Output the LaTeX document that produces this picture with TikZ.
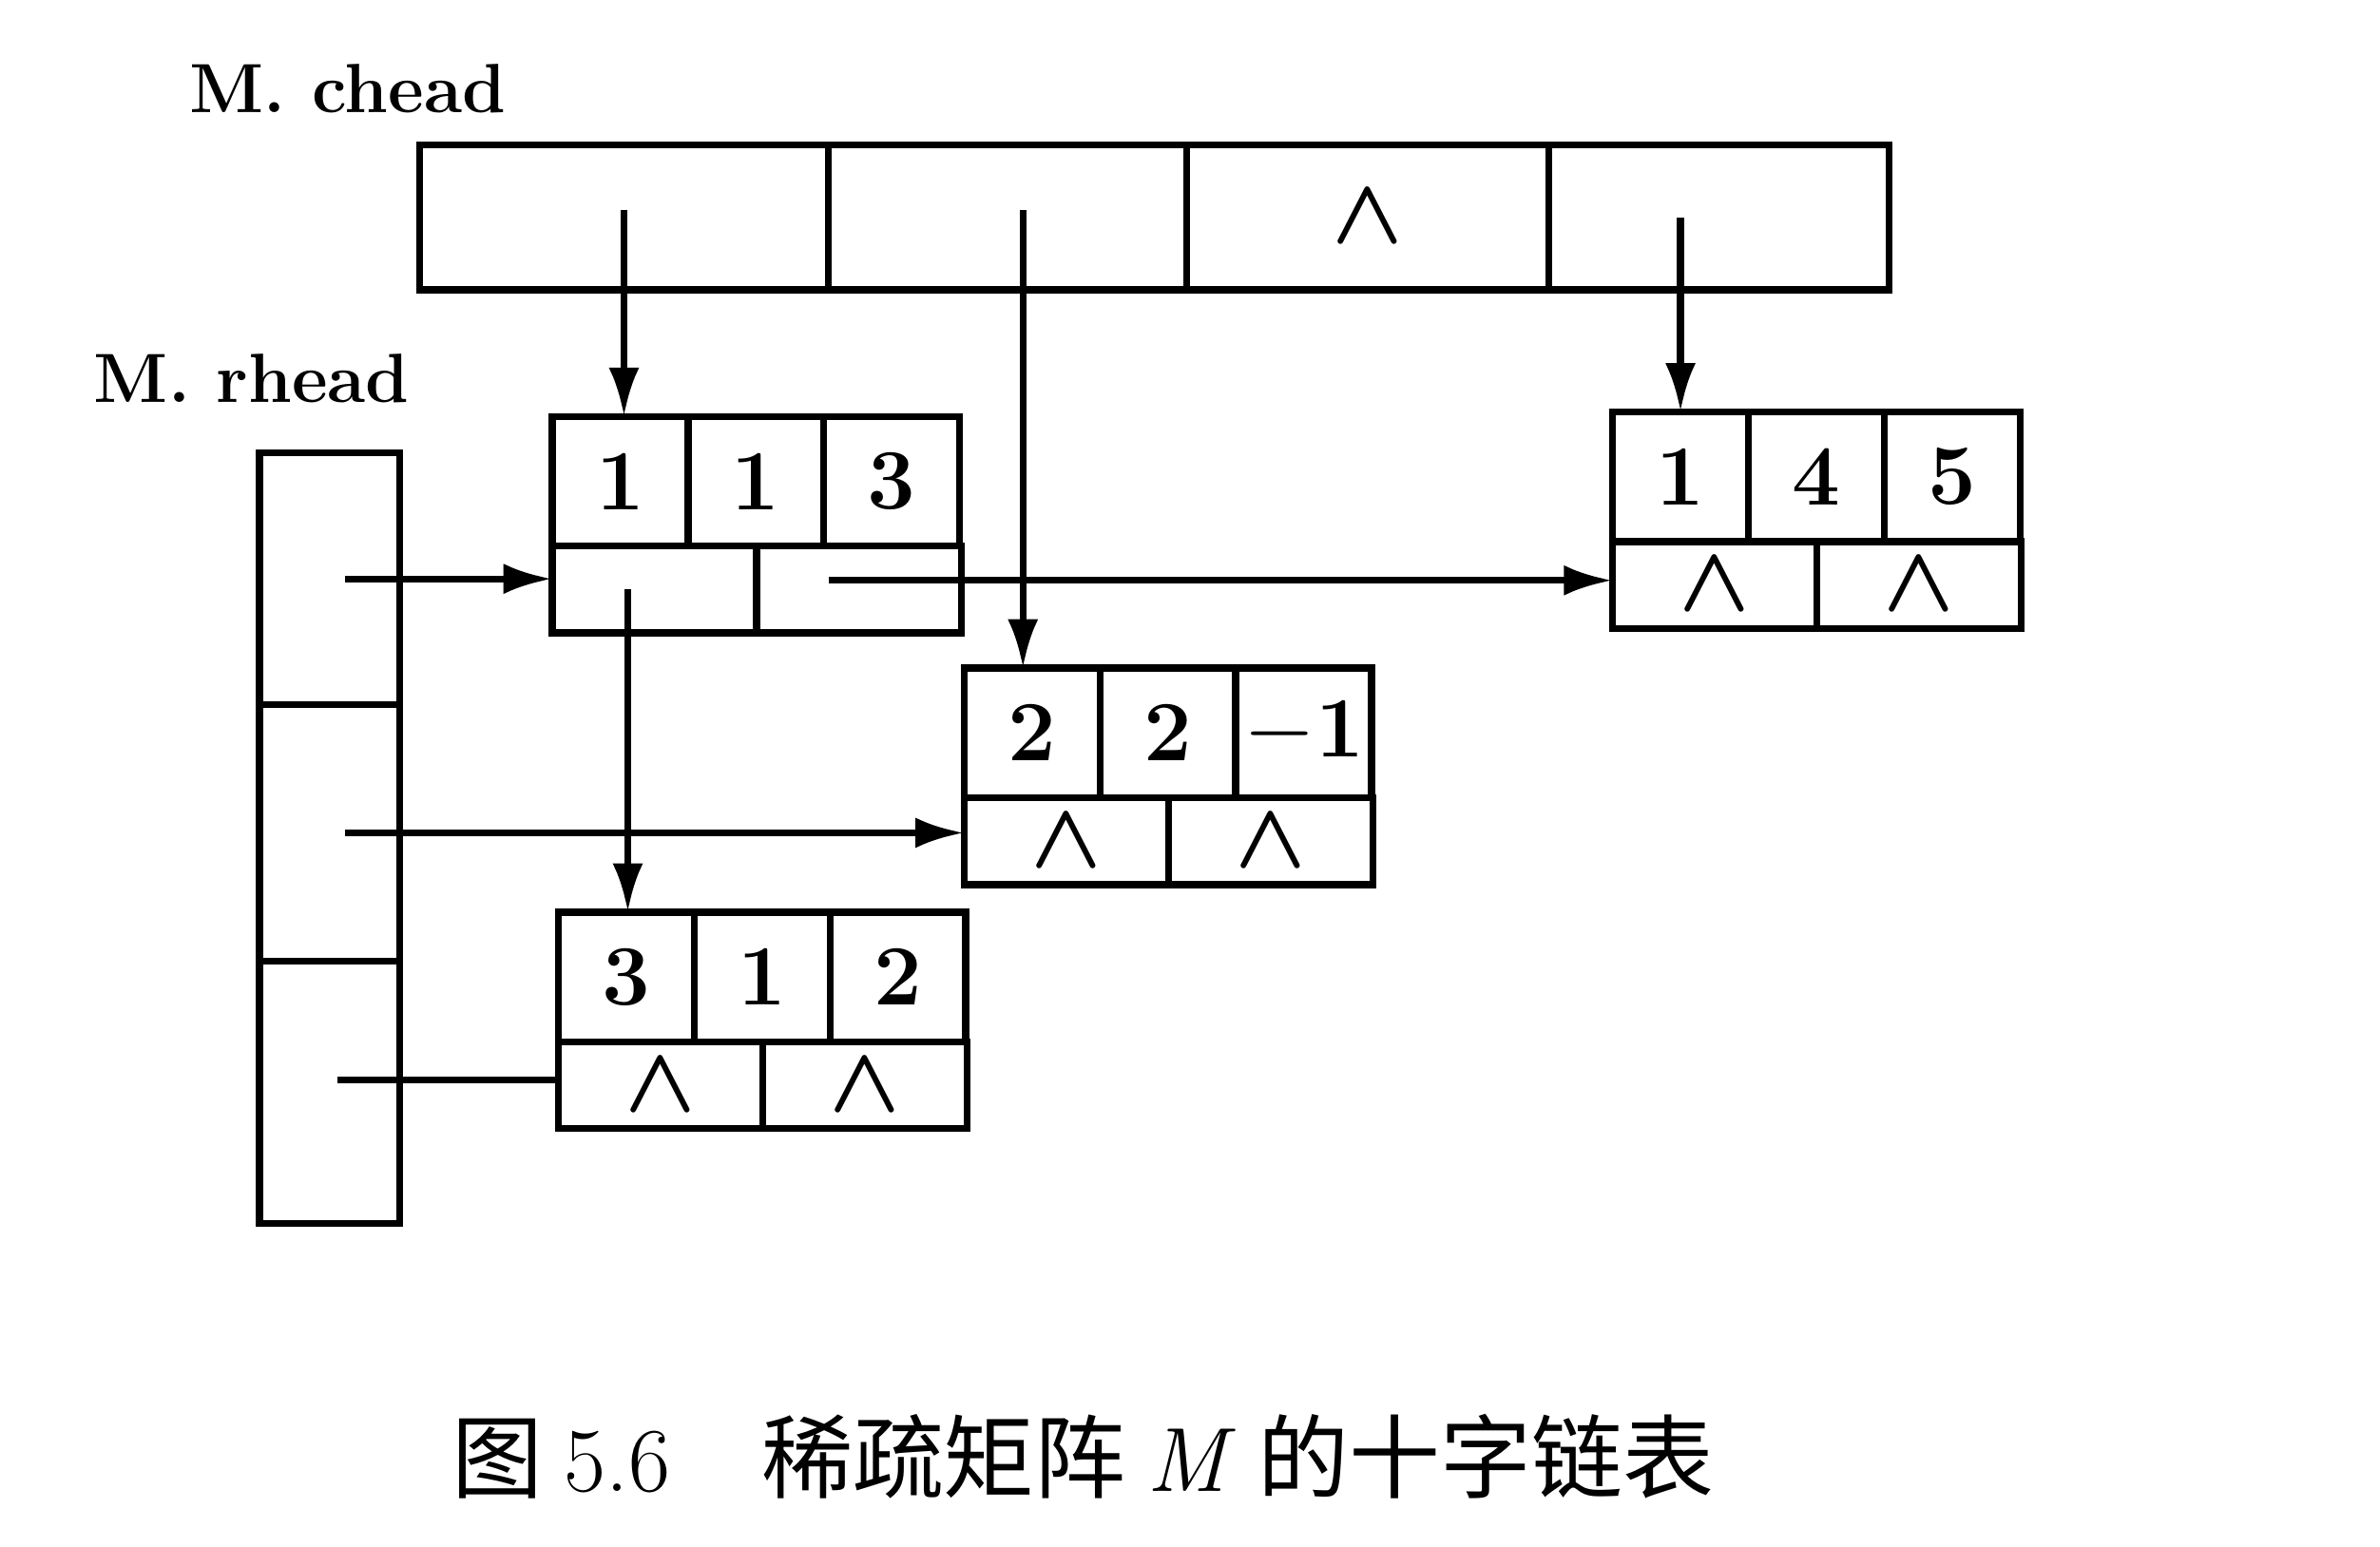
\documentclass[tikz,border=0pt]{standalone}
\usepackage{amsmath,amssymb}
\usepackage{fontspec}
\newfontfamily\cjk{Noto Sans CJK SC}
\usetikzlibrary{calc,arrows.meta}
\tikzset{box/.style={draw, line width=1.3pt, inner sep=0pt, outer sep=0pt, font=\fontsize{16}{16}\selectfont\bfseries}}
\tikzset{cell/.style={box, minimum width=89mm/10, minimum height=85mm/10}}
\tikzset{half/.style={box, minimum width=134mm/10, minimum height=57mm/10}}
\tikzset{link/.style={line width=1.3pt, -{Latex[length=3.2mm,width=2mm]}}}
\tikzset{plain/.style={line width=1.3pt}}
\newcommand{\nil}{$\boldsymbol{\wedge}$}
% one list element: row, column, value, down link, right link
\newcommand{\record}[8]{%
  \node[cell, anchor=north west] (#1a) at (#2,#3) {#4};
  \node[cell, anchor=west] (#1b) at (#1a.east) {#5};
  \node[cell, anchor=west] (#1c) at (#1b.east) {#6};
  \node[half, anchor=north west] (#1d) at (#1a.south west) {#7};
  \node[half, anchor=west] (#1r) at (#1d.east) {#8};}
\begin{document}
\begin{tikzpicture}[x=0.1mm,y=-0.1mm]
\useasboundingbox (0,0) rectangle (1560,1014);
% labels
\node[font=\fontsize{13}{13}\selectfont\bfseries] (lc) at (228,58) {M. chead};
\node[font=\fontsize{13}{13}\selectfont\bfseries] (lr) at (165,248) {M. rhead};
% column heads
\foreach \i/\x/\w/\t in {1/275/268/, 2/543/235/, 3/778/237/\nil, 4/1015/223/}
  \node[box, anchor=north west, minimum width=\w mm/10, minimum height=95mm/10] (ch\i) at (\x,95) {\t};
% row heads
\foreach \i/\y/\h in {1/297/165, 2/462/168, 3/630/172}
  \node[box, anchor=north west, minimum width=92mm/10, minimum height=\h mm/10] (rh\i) at (170,\y) {};
% elements
\record{A}{362}{273}{1}{1}{3}{}{}
\record{B}{632}{438}{2}{2}{$-$1}{\nil}{\nil}
\record{C}{1057}{270}{1}{4}{5}{\nil}{\nil}
\record{D}{366}{598}{3}{1}{2}{\nil}{\nil}
% column links
\draw[link] ($(ch1.center)+(0,-5)$) -- (ch1.center |- Aa.north);
\draw[link] ($(ch2.center)+(10,-5)$) -- ($(ch2.center |- Ba.north)+(10,0)$);
\draw[link] (Ca.north |- ch4.center) -- (Ca.north);
\draw[link] ($(Aa.center |- Ad.center)+(5,0)$) -- ($(Aa.center |- Da.north)+(5,0)$);
% row links
\draw[link] ($(rh1.center)+(10,0)$) -- (rh1.center -| Ad.west);
\draw[link] ($(Ar.center)+(-20,-6)$) -- ($(Ar.center -| Cd.west)+(0,-6)$);
\draw[link] ($(rh2.center)+(10,0)$) -- (rh2.center -| Bd.west);
\draw[plain] ($(rh3.center)+(5,-8)$) coordinate (r3) -- (r3 -| Dd.west);
% caption
\node[font=\fontsize{17}{17}\selectfont\cjk] (cap) at (710,955) {图 \rmfamily 5.6\quad \cjk 稀疏矩阵 \rmfamily\itshape M \cjk 的十字链表};
\end{tikzpicture}
\end{document}
